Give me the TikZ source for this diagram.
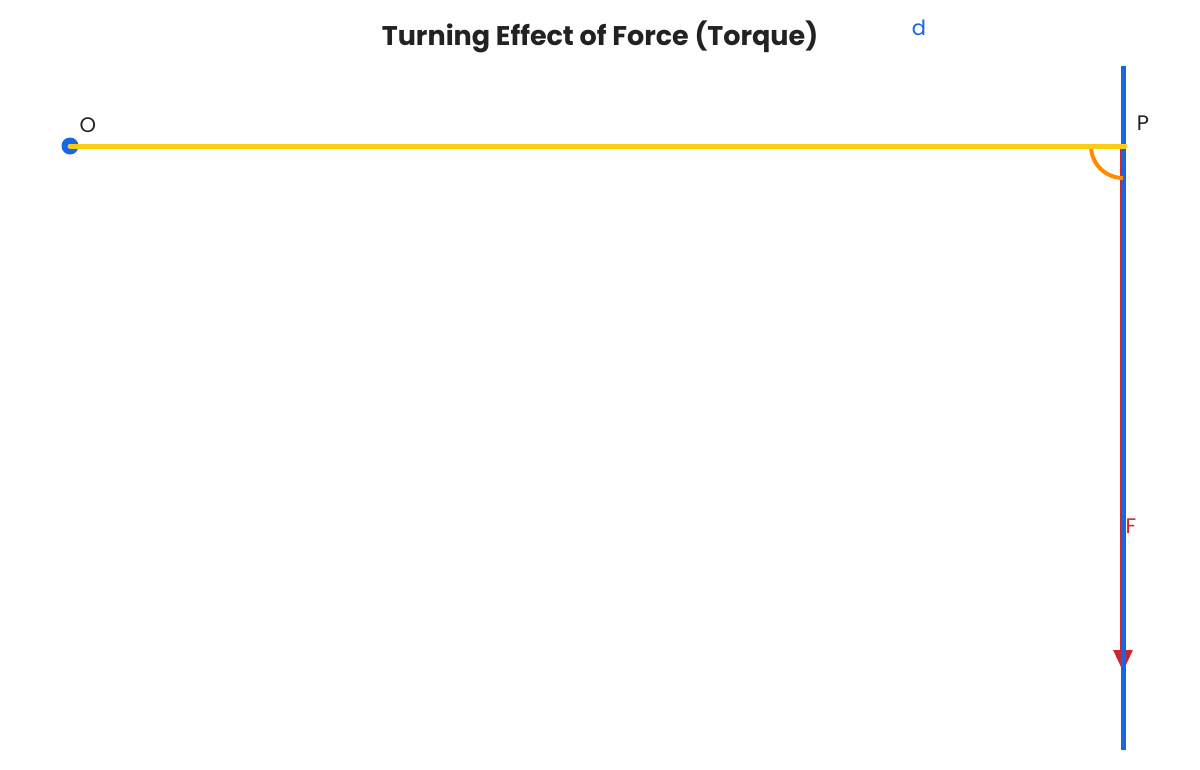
\documentclass[tikz,border=0pt]{standalone}
\usepackage{fontspec}
\setmainfont{Poppins}
\usetikzlibrary{arrows.meta}
\definecolor{cblue}{HTML}{1766E6}
\definecolor{cyellow}{HTML}{FACC15}
\definecolor{cred}{HTML}{C8282D}
\definecolor{corange}{HTML}{FF8C00}
\definecolor{ctext}{HTML}{222222}
\tikzset{
  lbl/.style={font=\fontsize{21}{24}\selectfont, inner sep=0pt},
  ttl/.style={font=\fontsize{27}{30}\selectfont\bfseries, text=ctext, inner sep=0pt},
}
\begin{document}
\begin{tikzpicture}[x=1pt,y=-1pt]
\useasboundingbox[fill=white] (0,0) rectangle (1200,769);
\coordinate (O) at (70,146);
\coordinate (P) at (1123,146);
\coordinate (Ptop) at (1123,66);
\coordinate (Pbot) at (1123,750);
\coordinate (Ftip) at (1123,672);
\node[ttl] (title) at (600,37) {Turning Effect of Force (Torque)};
\node[lbl, text=cblue] (dl) at (919,28) {d};
\node[lbl, text=ctext] (Ol) at (88,125) {O};
\node[lbl, text=ctext] (Pl) at (1143,123) {P};
\node[lbl, text=cred] (Fl) at (1131,526) {F};
\fill[cblue] (O) circle (8.5);
\draw[cred, line width=6pt, -{Triangle[width=18pt,length=22pt]}] (P) -- (Ftip);
\draw[cblue, line width=5pt] (Ptop) -- (Pbot);
\draw[corange, line width=4pt] (1091,146) arc[start angle=180, end angle=270, x radius=32, y radius=-32];
\draw[cyellow, line width=5pt, line cap=round] (O) -- (1125,146);
\end{tikzpicture}
\end{document}
